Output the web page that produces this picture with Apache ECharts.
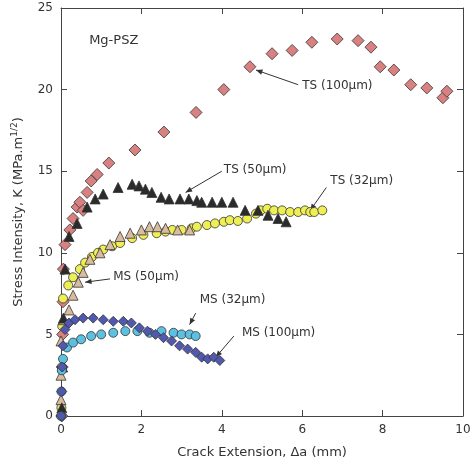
<!DOCTYPE html>
<html><head><meta charset="utf-8">
<script src="https://cdn.jsdelivr.net/npm/echarts@6/dist/echarts.min.js"></script>
<style>html,body{margin:0;background:#fff}#c{width:474px;height:474px}</style>
</head><body><div id="c"></div>
<script>
// data: [crack extension mm, K MPa.m^1/2]
const ts100 = [[0.02,0],[0.03,3],[0.04,5],[0.05,7],[0.06,9],[0.1,10.5],[0.22,11.4],[0.3,12.1],[0.4,12.8],[0.47,13.1],[0.55,12.6],[0.65,13.7],[0.75,14.4],[0.9,14.8],[1.19,15.5],[1.84,16.3],[2.56,17.4],[3.36,18.6],[4.05,20.0],[4.7,21.4],[5.25,22.2],[5.75,22.4],[6.24,22.9],[6.87,23.1],[7.39,23.0],[7.71,22.6],[7.94,21.4],[8.28,21.2],[8.7,20.3],[9.1,20.1],[9.5,19.5],[9.6,19.9]];
const ts50 = [[0.02,0.5],[0.04,3],[0.06,6],[0.1,9],[0.2,11.0],[0.4,11.8],[0.65,12.8],[0.85,13.3],[1.05,13.6],[1.42,14.0],[1.77,14.2],[1.94,14.1],[2.1,13.9],[2.26,13.7],[2.49,13.4],[2.69,13.3],[2.96,13.3],[3.18,13.3],[3.38,13.2],[3.5,13.1],[3.76,13.1],[4.0,13.1],[4.28,13.1],[4.58,12.6],[4.9,12.6],[5.15,12.3],[5.4,12.1],[5.6,11.9]];
const ts32 = [[0.01,0.5],[0.02,3],[0.03,5.5],[0.05,7.2],[0.18,8.0],[0.3,8.5],[0.47,9.0],[0.6,9.4],[0.77,9.75],[0.92,10.0],[1.05,10.2],[1.27,10.4],[1.47,10.6],[1.77,10.9],[2.05,11.1],[2.38,11.2],[2.6,11.3],[2.77,11.4],[3.0,11.4],[3.25,11.5],[3.38,11.6],[3.63,11.7],[3.83,11.8],[4.05,11.9],[4.2,12.0],[4.4,11.95],[4.63,12.1],[4.85,12.4],[4.97,12.6],[5.13,12.7],[5.3,12.6],[5.5,12.6],[5.7,12.5],[5.9,12.5],[6.07,12.6],[6.2,12.5],[6.3,12.5],[6.5,12.6]];
const ms50 = [[0.0,1],[0.0,2.5],[0.0,4.6],[0.06,5.9],[0.2,6.5],[0.3,7.4],[0.43,8.2],[0.55,8.8],[0.72,9.6],[0.97,10.0],[1.22,10.5],[1.47,11.0],[1.72,11.2],[2.0,11.4],[2.2,11.6],[2.4,11.6],[2.6,11.5],[2.9,11.4],[3.2,11.4]];
const ms100 = [[0.01,0],[0.02,1.5],[0.03,3],[0.05,4.3],[0.1,5.3],[0.2,5.7],[0.35,5.9],[0.55,6.0],[0.8,6.0],[1.05,5.9],[1.3,5.8],[1.55,5.8],[1.75,5.7],[1.95,5.4],[2.15,5.2],[2.35,5.0],[2.55,4.8],[2.75,4.6],[2.95,4.3],[3.15,4.1],[3.35,3.9],[3.5,3.6],[3.65,3.5],[3.8,3.6],[3.95,3.4]];
const ms32 = [[0.0,0],[0.01,1.5],[0.02,2.8],[0.05,3.5],[0.15,4.2],[0.3,4.5],[0.5,4.7],[0.75,4.9],[1.0,5.0],[1.3,5.1],[1.6,5.2],[1.9,5.2],[2.2,5.1],[2.5,5.2],[2.8,5.1],[3.0,5.0],[3.2,5.0],[3.35,4.9]];

// label text, text anchor, arrow start, arrow tip (data coords)
const notes = [
  {t:'TS (100\u03bcm)', at:[6.0,20.2], from:[5.9,20.3], to:[4.85,21.2]},
  {t:'TS (50\u03bcm)', at:[4.05,15.1], from:[4.0,15.0], to:[3.1,13.7]},
  {t:'TS (32\u03bcm)', at:[6.7,14.4], from:[6.6,14.0], to:[6.2,12.6]},
  {t:'MS (50\u03bcm)', at:[1.3,8.5], from:[1.22,8.4], to:[0.6,8.2]},
  {t:'MS (32\u03bcm)', at:[3.45,7.1], from:[3.35,6.3], to:[3.2,5.6]},
  {t:'MS (100\u03bcm)', at:[4.5,5.1], from:[4.3,4.9], to:[3.85,3.6]}
];

const font = 'DejaVu Sans';
const chart = echarts.init(document.getElementById('c'));

function scat(data, symbol, color, size) {
  return {
    type: 'scatter', data: data, symbol: symbol, symbolSize: size,
    itemStyle: {color: color, borderColor: '#333', borderWidth: 0.8, opacity: 1},
    xAxisIndex: 0, yAxisIndex: 0, animation: false
  };
}

function axisBase(show) {
  return {
    min: 0, axisLine: {show: true, onZero: false, lineStyle: {color: '#444'}},
    axisTick: {show: true, inside: true, length: 6, lineStyle: {color: '#444'}},
    axisLabel: {show: show, color: '#333', fontFamily: font, fontSize: 12},
    splitLine: {show: false}
  };
}

chart.setOption({
  animation: false,
  grid: {left: 61, right: 11, top: 8, bottom: 58},
  xAxis: [
    Object.assign(axisBase(true), {type: 'value', max: 10, interval: 2,
      name: 'Crack Extension, \u0394a (mm)', nameLocation: 'middle', nameGap: 30,
      nameTextStyle: {fontFamily: font, fontSize: 13, color: '#333'}}),
    Object.assign(axisBase(false), {type: 'value', max: 10, interval: 2, position: 'top'})
  ],
  yAxis: [
    Object.assign(axisBase(true), {type: 'value', max: 25, interval: 5,
      name: '{n|Stress Intensity, K (MPa.m}{s|1/2}{n|)}', nameLocation: 'middle', nameGap: 34,
      nameTextStyle: {rich: {n: {fontFamily: font, fontSize: 13, color: '#333'},
        s: {fontFamily: font, fontSize: 9, color: '#333', verticalAlign: 'top', padding: [0,0,8,0]}}}}),
    Object.assign(axisBase(false), {type: 'value', max: 25, interval: 5, position: 'right'})
  ],
  series: [
    scat(ts100, 'diamond', '#d98080', 12),
    scat(ts32, 'circle', '#eeee55', 9),
    scat(ms50, 'triangle', '#d9bba0', 10),
    scat(ts50, 'triangle', '#2b2b2b', 10),
    scat(ms32, 'circle', '#5cc0e0', 9),
    scat(ms100, 'diamond', '#5058b0', 10)
  ]
});

const px = p => chart.convertToPixel({xAxisIndex: 0, yAxisIndex: 0}, p);
const gfx = [];
const mg = px([0.7, 23.0]);
gfx.push({type: 'text', x: mg[0], y: mg[1], style: {text: 'Mg-PSZ', font: '13px "DejaVu Sans"', fill: '#333', textVerticalAlign: 'middle'}});
notes.forEach(n => {
  const a = px(n.at), f = px(n.from), t = px(n.to);
  gfx.push({type: 'text', x: a[0], y: a[1], style: {text: n.t, font: '12px "DejaVu Sans"', fill: '#333', textVerticalAlign: 'middle'}});
  gfx.push({type: 'line', shape: {x1: f[0], y1: f[1], x2: t[0], y2: t[1]}, style: {stroke: '#333', lineWidth: 1}});
  const ang = Math.atan2(t[1] - f[1], t[0] - f[0]), L = 7, w = 0.4;
  gfx.push({type: 'polygon', shape: {points: [t,
    [t[0] - L * Math.cos(ang - w), t[1] - L * Math.sin(ang - w)],
    [t[0] - L * Math.cos(ang + w), t[1] - L * Math.sin(ang + w)]]}, style: {fill: '#333'}});
});
chart.setOption({graphic: gfx});
</script>
</body></html>
